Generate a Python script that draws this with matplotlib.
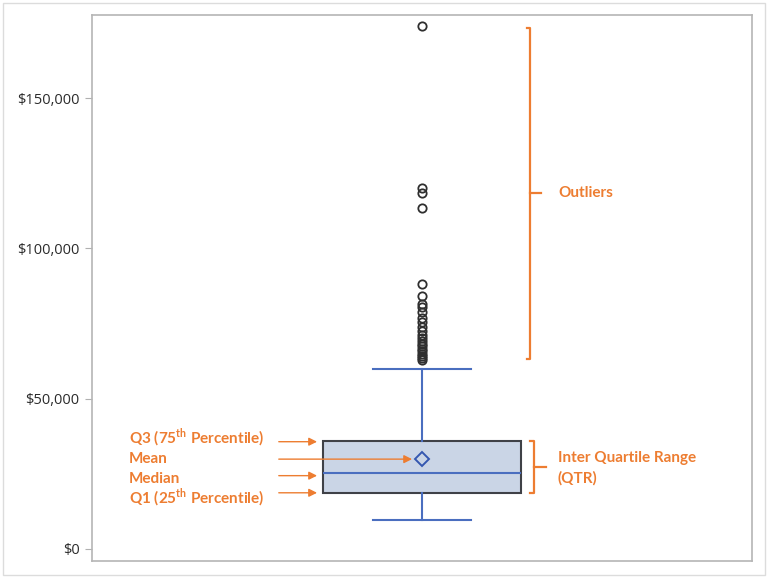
import matplotlib
matplotlib.use("Agg")
import matplotlib.pyplot as plt
from matplotlib.patches import Rectangle
from matplotlib.ticker import FuncFormatter

# ---- data ----
q1 = 18700
median = 25300
q3 = 35800
mean = 30000
whisker_low = 9700
whisker_high = 59800
fliers = [63000, 63500, 64200, 65000, 65800, 66600, 67400, 68300, 69200, 70200,
          71300, 72500, 74000, 75500, 77000, 79000, 80500, 81600, 84300, 88200,
          113500, 118500, 120100, 174000]
y_ticks = [0, 50000, 100000, 150000]
ann_labels = ["Q3 (75$^{\\mathrm{th}}$ Percentile)", "Mean", "Median",
              "Q1 (25$^{\\mathrm{th}}$ Percentile)"]
ann_text_values = [35250, 28600, 21950, 15300]
ann_arrow_values = [35700, 29900, 24400, 18700]
outlier_span = [63100, 173300]
iqr_label = "Inter Quartile Range\n(QTR)"
outlier_label = "Outliers"

orange = "#ED7D31"
blue = "#4A6EBF"

plt.rcParams["mathtext.fontset"] = "custom"
plt.rcParams["mathtext.rm"] = "Lato:bold"
plt.rcParams["mathtext.bf"] = "Lato:bold"

fig = plt.figure(figsize=(7.68, 5.78), dpi=100)
fig.patches.append(Rectangle((3/768, 3/578), 762/768, 572/578, transform=fig.transFigure,
                             fill=False, edgecolor="#dcdcdc", linewidth=1.0))
ax = fig.add_axes([92/768, 17/578, 660/768, 546/578])

stats = [dict(q1=q1, med=median, q3=q3, mean=mean, whislo=whisker_low,
              whishi=whisker_high, fliers=fliers)]
ax.bxp(stats, positions=[1], widths=0.2985, capwidths=0.1485, showmeans=True,
       patch_artist=True,
       boxprops=dict(facecolor="#CAD5E6", edgecolor="#3F4147", linewidth=1.5),
       whiskerprops=dict(color=blue, linewidth=1.5),
       capprops=dict(color=blue, linewidth=1.5),
       medianprops=dict(color=blue, linewidth=1.5),
       meanprops=dict(marker="D", markerfacecolor="none", markeredgecolor="#3457B0",
                      markersize=7.5, markeredgewidth=1.4),
       flierprops=dict(marker="o", markerfacecolor="none", markeredgecolor="#2f2f2f",
                       markersize=6, markeredgewidth=1.3))

ax.set_xlim(0.5, 1.5)
ax.set_ylim(-4000, 177700)
ax.set_xticks([])
ax.set_yticks(y_ticks)
ax.yaxis.set_major_formatter(FuncFormatter(lambda v, p: f"${v:,.0f}"))
ax.tick_params(axis="y", length=5, color="#b0b0b0", labelsize=10.5, labelcolor="#2b2b2b", pad=4)
for lab in ax.get_yticklabels():
    lab.set_family(["Open Sans", "DejaVu Sans"])
for s in ax.spines.values():
    s.set_color("#b5b5b5")
    s.set_linewidth(1.2)

tr = ax.get_yaxis_transform()
text_kw = dict(color=orange, fontsize=11, fontweight="bold", family=["Lato", "DejaVu Sans"],
               transform=tr)

# left annotations with arrows
for lab, tv, av in zip(ann_labels, ann_text_values, ann_arrow_values):
    ax.text(0.056, tv, lab, ha="left", va="baseline", **text_kw)
    end = 0.485 if lab == "Mean" else 0.341
    ax.annotate("", xy=(end, av), xytext=(0.283, av), xycoords=tr, textcoords=tr,
                arrowprops=dict(arrowstyle="-|>", color=orange, lw=1.0,
                                mutation_scale=12, shrinkA=0, shrinkB=0))

# outliers bracket
bx = 0.664
lo, hi = outlier_span
ax.plot([bx - 0.005, bx, bx, bx - 0.005], [hi, hi, lo, lo], color=orange, lw=1.6,
        transform=tr, clip_on=False)
midv = 118400
ax.plot([bx, bx + 0.016], [midv, midv], color=orange, lw=1.6, transform=tr)
ax.text(0.706, midv, outlier_label, ha="left", va="center", **text_kw)

# IQR bracket
bx2 = 0.670
ax.plot([bx2 - 0.006, bx2, bx2, bx2 - 0.006], [q3, q3, q1, q1], color=orange, lw=1.6,
        transform=tr)
midq = (q1 + q3) / 2
ax.plot([bx2, bx2 + 0.018], [midq, midq], color=orange, lw=1.6, transform=tr)
ax.text(0.706, midq - 400, iqr_label, ha="left", va="center", linespacing=1.55, **text_kw)

fig.savefig("out.png", dpi=100, facecolor="white")
